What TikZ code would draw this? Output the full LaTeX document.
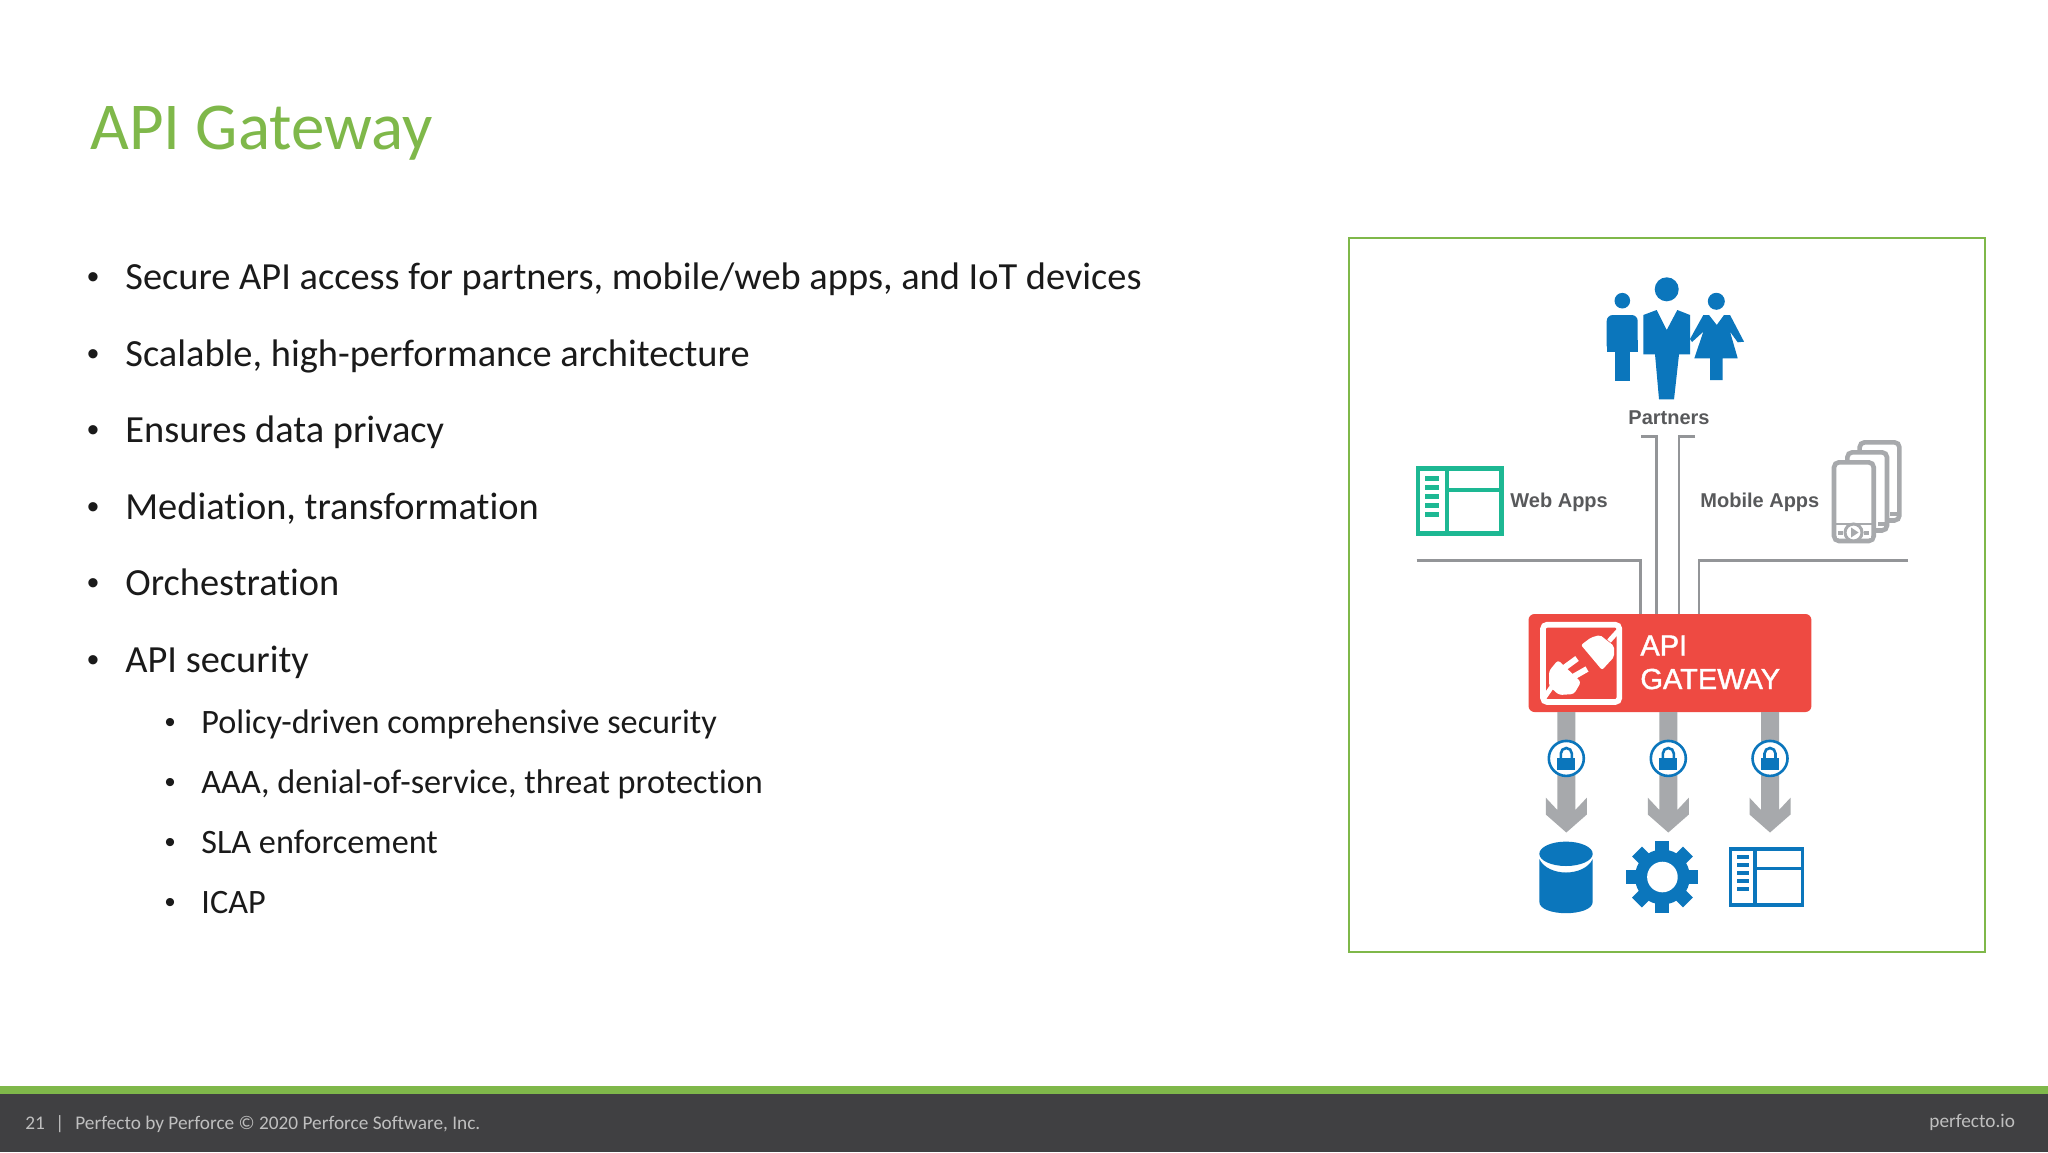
\documentclass[tikz,border=0pt]{standalone}
\usepackage{fontspec}
\setmainfont[Ligatures=NoCommon]{Carlito}
\newfontfamily\arl{Liberation Sans}
\newfontfamily\arlm[FakeBold=1.5]{Liberation Sans}
\definecolor{pgreen}{HTML}{7FB84A}
\definecolor{pdark}{HTML}{404042}
\definecolor{pblue}{HTML}{0B76BC}
\definecolor{pgrey}{HTML}{A7A9AC}
\definecolor{pline}{HTML}{939598}
\definecolor{pteal}{HTML}{1DB893}
\definecolor{pred}{HTML}{EE4A42}
\definecolor{plabel}{HTML}{58595B}
\definecolor{ptext}{HTML}{1A1A1A}
\tikzset{
 x=0.5pt,y=-0.5pt,
 bul/.style={anchor=base west,inner sep=0,text=ptext,font=\fontsize{19.2pt}{21pt}\selectfont},
 subbul/.style={anchor=base west,inner sep=0,text=ptext,font=\fontsize{17.1pt}{19pt}\selectfont},
 dot/.style={anchor=base,inner sep=0,text=ptext,font=\arl\fontsize{17pt}{19pt}\selectfont},
 subdot/.style={anchor=base,inner sep=0,text=ptext,font=\arl\fontsize{15pt}{17pt}\selectfont},
 lab/.style={anchor=base west,inner sep=0,text=plabel,font=\arl\bfseries\fontsize{10pt}{12pt}\selectfont},
 wire/.style={draw=pline,line width=1.3pt},
 foot/.style={anchor=base west,inner sep=0,text=black!25,font=\fontsize{9.65pt}{11pt}\selectfont},
 gwt/.style={anchor=base west,inner sep=0,text=white,font=\arlm\fontsize{14.5pt}{16pt}\selectfont},
}
\newcommand{\dnarrow}[1]{%
 \fill[pgrey] (#1-9,712) -- (#1+9,712) -- (#1+9,810) -- (#1+20.5,797.7) -- (#1+20.5,814.5) -- (#1,832.5) -- (#1-20.5,814.5) -- (#1-20.5,797.7) -- (#1-9,810) -- cycle;
 \draw[pblue,fill=white,line width=1.3pt] (#1,758.4) circle (17.5);
 \fill[pblue] (#1-9,758.3) rectangle (#1+9,769.5);
 \draw[pblue,line width=1.3pt] (#1-5.5,759) -- (#1-5.5,753.5) arc (180:360:5.5) -- (#1+5.5,759);
}
\begin{document}
\begin{tikzpicture}
\useasboundingbox (0,0) rectangle (2048,1152);
\fill[white] (0,0) rectangle (2048,1152);
\node[anchor=base west,inner sep=0,text=pgreen,font=\fontsize{33.5pt}{36pt}\selectfont] (title) at (90,149) {API Gateway};
\node[bul] (b1) at (125,289) {Secure API access for partners, mobile/web apps, and IoT devices};
\node[bul] (b2) at (125,366) {Scalable, high-performance architecture};
\node[bul] (b3) at (125,442) {Ensures data privacy};
\node[bul] (b4) at (125,519) {Mediation, transformation};
\node[bul] (b5) at (125,595) {Orchestration};
\node[bul] (b6) at (125,672) {API security};
\foreach \y [count=\i] in {288,365,441,518,594,671}{\node[dot] (d\i) at (93,\y) {•};}
\node[subbul] (s1) at (201,733) {Policy-driven comprehensive security};
\node[subbul] (s2) at (201,793) {AAA, denial-of-service, threat protection};
\node[subbul] (s3) at (201,853) {SLA enforcement};
\node[subbul] (s4) at (201,913) {ICAP};
\foreach \y [count=\i] in {732,792,852,912}{\node[subdot] (e\i) at (170,\y) {•};}
% frame
\draw[pgreen,line width=1pt] (1349,238) rectangle (1985,952);
% people
\fill[pblue] (1622.3,300.7) circle (7.8);
\fill[pblue,rounded corners=3pt] (1606.7,351.7) -- (1606.7,315) -- (1637.7,315) -- (1637.7,351.7) -- cycle;
\fill[pblue] (1606.7,340) rectangle (1637.7,351.7);
\fill[pblue] (1615,345) rectangle (1630.3,380.7);
\fill[pblue] (1666.7,289.3) circle (12);
\fill[pblue] (1643.3,315) -- (1656.7,310) -- (1666.7,330) -- (1677.3,310) -- (1690,315) -- (1690,354.3) -- (1679,354.3) -- (1674,399.3) -- (1659,399.3) -- (1655,354.3) -- (1643.3,354.3) -- cycle;
\fill[pblue] (1716.3,301.3) circle (8.5);
\fill[pblue] (1703.3,315) -- (1709,315) -- (1716.7,325) -- (1724,315) -- (1730,315) -- (1744,341.7) -- (1737.7,342.3) -- (1730,331.7) -- (1737.7,358.3) -- (1722.7,358.3) -- (1722.7,380) -- (1710,380) -- (1710,358.3) -- (1694.3,358.3) -- (1703.3,331.7) -- (1692,342) -- (1690,339) -- cycle;
\node[lab,anchor=base] (partners) at (1669,424) {Partners};
% wires
\draw[wire] (1641,436.7) -- (1656.5,436.7) -- (1656.5,614);
\draw[wire] (1695,436.7) -- (1679,436.7) -- (1679,614);
\draw[wire] (1416.6,560.3) -- (1640.5,560.3) -- (1640.5,614);
\draw[wire] (1908,560.3) -- (1699,560.3) -- (1699,614);
% web apps icon
\draw[pteal,line width=2.1pt] (1418,468.5) rectangle (1501.5,533.5) (1447,468.5) -- (1447,533.5) (1447,490) -- (1501.5,490);
\foreach \y in {478.3,487.3,496.3,505.3,514.3}{\fill[pteal] (1425,\y-2.2) rectangle (1439,\y+2.2);}
\node[lab] (webapps) at (1510,507.5) {Web Apps};
\node[lab] (mobapps) at (1700,507.5) {Mobile Apps};
% phones
\draw[pgrey,line width=2.3pt,rounded corners=2.5pt] (1859.6,442.3) rectangle (1899.4,520.5);
\draw[pgrey,fill=white,line width=2.3pt,rounded corners=2.5pt] (1847.3,452.3) rectangle (1887,530.5);
\draw[pgrey,fill=white,line width=2.3pt,rounded corners=2.5pt] (1834,462.3) rectangle (1873.7,541);
\fill[pgrey] (1890,512.3) rectangle (1897,516.3);
\fill[pgrey] (1878,522) rectangle (1885,526);
\draw[pgrey,line width=1.2pt] (1834,524) -- (1873.7,524);
\fill[white] (1837,527) rectangle (1870.7,538);
\draw[pgrey,fill=white,line width=1.5pt] (1853.5,532.5) circle (8.5);
\fill[pgrey] (1851,527.5) -- (1858.5,532.5) -- (1851,537.5) -- cycle;
\fill[pgrey] (1838,531) rectangle (1843,535);
\fill[pgrey] (1864,531) rectangle (1869,535);
% gateway
\fill[pred,rounded corners=3pt] (1528.5,614) rectangle (1811.4,712);
\draw[white,line width=2.8pt,rounded corners=2pt] (1543,624.7) rectangle (1619.3,702);
\fill[white,rounded corners=1pt] (1581,645) -- (1591,637.5) -- (1600,635) -- (1614,646) -- (1614,657) -- (1602,670) -- cycle;
\draw[white,line width=2.4pt] (1609,641) -- (1619,630);
\fill[white,rounded corners=1.5pt] (1558,660) -- (1581,682) -- (1574,694) -- (1559,695) -- (1549,686) -- (1549,671) -- cycle;
\draw[white,line width=3pt] (1564,668) -- (1577,658.5);
\draw[white,line width=3pt] (1573,677) -- (1587,669);
\draw[white,line width=2.4pt] (1553,685) -- (1544,698);
\node[gwt] (api) at (1640,655.5) {API};
\node[gwt] (gw) at (1640,689) {GATEWAY};
% arrows
\dnarrow{1566.3}\dnarrow{1668.3}\dnarrow{1770}
% cylinder
\fill[pblue] (1566,853.8) ellipse (26.7 and 12.2);
\fill[pblue] (1539.3,859) .. controls (1548,877) and (1584,877) .. (1592.7,859) -- (1592.7,901.7) .. controls (1592.7,917) and (1539.3,917) .. (1539.3,901.7) -- cycle;
% gear
\fill[pblue] (1662.4,877) circle (27.5);
\foreach \g in {0,45,...,315}{\fill[pblue,rotate around={\g:(1662.4,877)}] (1655.4,841) rectangle (1669.4,860);}
\fill[white] (1662.4,877) circle (15.3);
% blue window
\draw[pblue,line width=1.8pt] (1730.5,849) rectangle (1802.5,905) (1755,849) -- (1755,905) (1755,868.3) -- (1802.5,868.3);
\foreach \y in {856.7,864.7,872.7,880.7,888.7}{\fill[pblue] (1736.5,\y-1.8) rectangle (1749,\y+1.8);}
% footer
\fill[pdark] (0,1094) rectangle (2048,1152);
\fill[pgreen] (0,1086) rectangle (2048,1094);
\node[foot] (pg) at (25,1129) {21};
\node[foot] (sep) at (55,1129) {|};
\node[foot] (cr) at (75,1129) {Perfecto by Perforce © 2020 Perforce Software, Inc.};
\node[foot] (io) at (1929,1127) {perfecto.io};
\end{tikzpicture}
\end{document}
